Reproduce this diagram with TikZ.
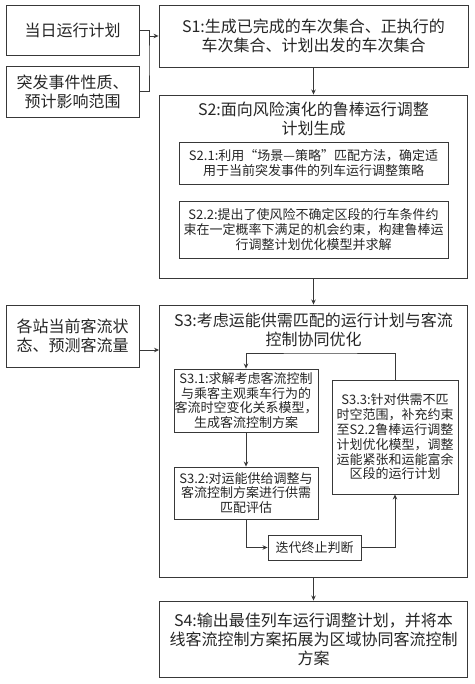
\documentclass[tikz,border=0pt]{standalone}
\usepackage{fontspec}
\setmainfont{Noto Sans CJK SC}
\usetikzlibrary{arrows.meta,calc}
\begin{document}
\begin{tikzpicture}[x=1pt,y=-1pt,
  box/.style={draw=black!78, line width=0.9pt, inner sep=0pt, align=center, text=black!85},
  txt/.style={inner sep=0pt, align=center, text=black!85},
  big/.style={font=\fontsize{16}{19}\selectfont},
  small/.style={font=\fontsize{13}{14.8}\selectfont},
  arr/.style={draw=black!78, line width=0.8pt, -{Stealth[length=5pt,width=4.5pt]}},
  ln/.style={draw=black!78, line width=0.8pt}]
\useasboundingbox[fill=white] (0,0) rectangle (474,684);

% left inputs
\node[box,big,minimum width=133pt,minimum height=50pt] (b1) at (72.5,30) {当日运行计划};
\node[box,big,minimum width=133pt,minimum height=51pt] (b2) at (72.5,91.5) {突发事件性质、\\预计影响范围};
\node[box,big,minimum width=133pt,minimum height=62pt] (b3) at (72.5,336) {各站当前客流状\\态、预测客流量};

% S1
\node[box,big,minimum width=309pt,minimum height=62pt] (s1) at (313.5,36) {S1:生成已完成的车次集合、正执行的\\车次集合、计划出发的车次集合};

% S2
\node[box,minimum width=308pt,minimum height=183pt] (s2) at (313.5,186.5) {};
\node[txt,big] (s2t) at (313.5,119) {S2:面向风险演化的鲁棒运行调整\\计划生成};
\node[box,small,minimum width=269pt,minimum height=42pt] (s21) at (313.5,163) {S2.1:利用“场景—策略”匹配方法，确定适\\用于当前突发事件的列车运行调整策略};
\node[box,small,minimum width=269pt,minimum height=57pt] (s22) at (313.5,229.5) {S2.2:提出了使风险不确定区段的行车条件约\\束在一定概率下满足的机会约束，构建鲁棒运\\行调整计划优化模型并求解};

% S3
\node[box,minimum width=308pt,minimum height=272pt] (s3) at (313.5,441) {};
\node[txt,big] (s3t) at (313.5,330) {S3:考虑运能供需匹配的运行计划与客流\\控制协同优化};
\node[box,small,minimum width=144pt,minimum height=63pt] (s31) at (246,400.5) {S3.1:求解考虑客流控制\\与乘客主观乘车行为的\\客流时空变化关系模型，\\生成客流控制方案};
\node[box,small,minimum width=144pt,minimum height=52pt] (s32) at (246,493) {S3.2:对运能供给调整与\\客流控制方案进行供需\\匹配评估};
\node[box,small,minimum width=126pt,minimum height=114pt] (s33) at (395,437) {S3.3:针对供需不匹\\时空范围，补充约束\\至S2.2鲁棒运行调整\\计划优化模型，调整\\运能紧张和运能富余\\区段的运行计划};
\node[box,small,minimum width=93pt,minimum height=25pt] (it) at (314.5,547.5) {迭代终止判断};

% S4
\node[box,big,minimum width=308pt,minimum height=76pt] (s4) at (313.5,639) {S4:输出最佳列车运行调整计划，并将本\\线客流控制方案拓展为区域协同客流控制\\方案};

% connectors
\coordinate (jx) at (149,60);
\coordinate (ja) at (149,36);
\draw[ln] (b1.east) -| (jx) |- (b2.east);
\draw[arr] (ja) -- (s1.west |- ja);
\draw[arr] (s1.south) -- (s1.south |- s2.north);
\draw[arr] (s2.south) -- (s2.south |- s3.north);
\coordinate (jb) at (139,350);
\draw[arr] (b3.east |- jb) -- (s3.west |- jb);
\coordinate (lp) at (320,353);
\draw[arr] (s33.north) |- (lp) -| (s31.north);
\draw[arr] (s31.south) -- (s32.north);
\draw[arr] (s32.south) |- (it.west);
\draw[arr] (it.east) -| (s33.south);
\draw[arr] (s3.south) -- (s3.south |- s4.north);
\end{tikzpicture}
\end{document}
